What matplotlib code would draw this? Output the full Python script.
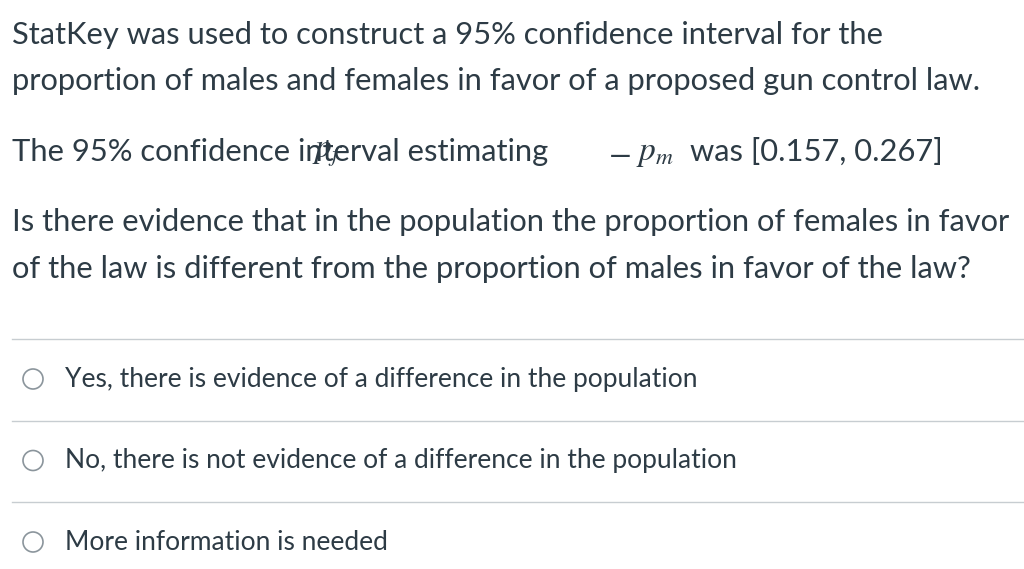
import matplotlib
matplotlib.use("Agg")
import matplotlib.pyplot as plt
from matplotlib.patches import Circle

question_lines = [
    "StatKey was used to construct a 95% confidence interval for the",
    "proportion of males and females in favor of a proposed gun control law.",
]
interval_prefix = "The 95% confidence interval estimating"
interval_math = [r"$p_f$", r"$-$", r"$p_m$"]
interval_suffix = "was [0.157, 0.267]"
ask_lines = [
    "Is there evidence that in the population the proportion of females in favor",
    "of the law is different from the proportion of males in favor of the law?",
]
options = [
    "Yes, there is evidence of a difference in the population",
    "No, there is not evidence of a difference in the population",
    "More information is needed",
]

plt.rcParams['mathtext.fontset'] = 'stix'
W, H = 1024, 569
fig = plt.figure(figsize=(10.24, 5.69), dpi=100)
ax = fig.add_axes([0, 0, 1, 1])
ax.set_xlim(0, W)
ax.set_ylim(H, 0)
ax.axis('off')

fam = 'Lato'
col = '#2d3b45'
fs = 22.2
for i, t in enumerate(question_lines):
    ax.text(12, 35 + i * 46, t, fontsize=fs, family=fam, color=col, va='center')
ax.text(12, 152, interval_prefix, fontsize=fs, family=fam, color=col, va='center')
for x, m in zip([312, 608, 636], interval_math):
    ax.text(x, 152, m, fontsize=24, color=col, va='center')
ax.text(690, 152, interval_suffix, fontsize=fs, family=fam, color=col, va='center')
for i, t in enumerate(ask_lines):
    ax.text(12, 222 + i * 47, t, fontsize=fs, family=fam, color=col, va='center')

for i, t in enumerate(options):
    y = 379 + i * 81.5
    ax.plot([12, W], [y - 40, y - 40], color='#c7cdd1', lw=1)
    ax.add_patch(Circle((33, y), 10, fill=False, ec='#8b959c', lw=1.2))
    ax.text(65, y, t, fontsize=19, family=fam, color=col, va='center')

fig.savefig('out.png', dpi=100)
